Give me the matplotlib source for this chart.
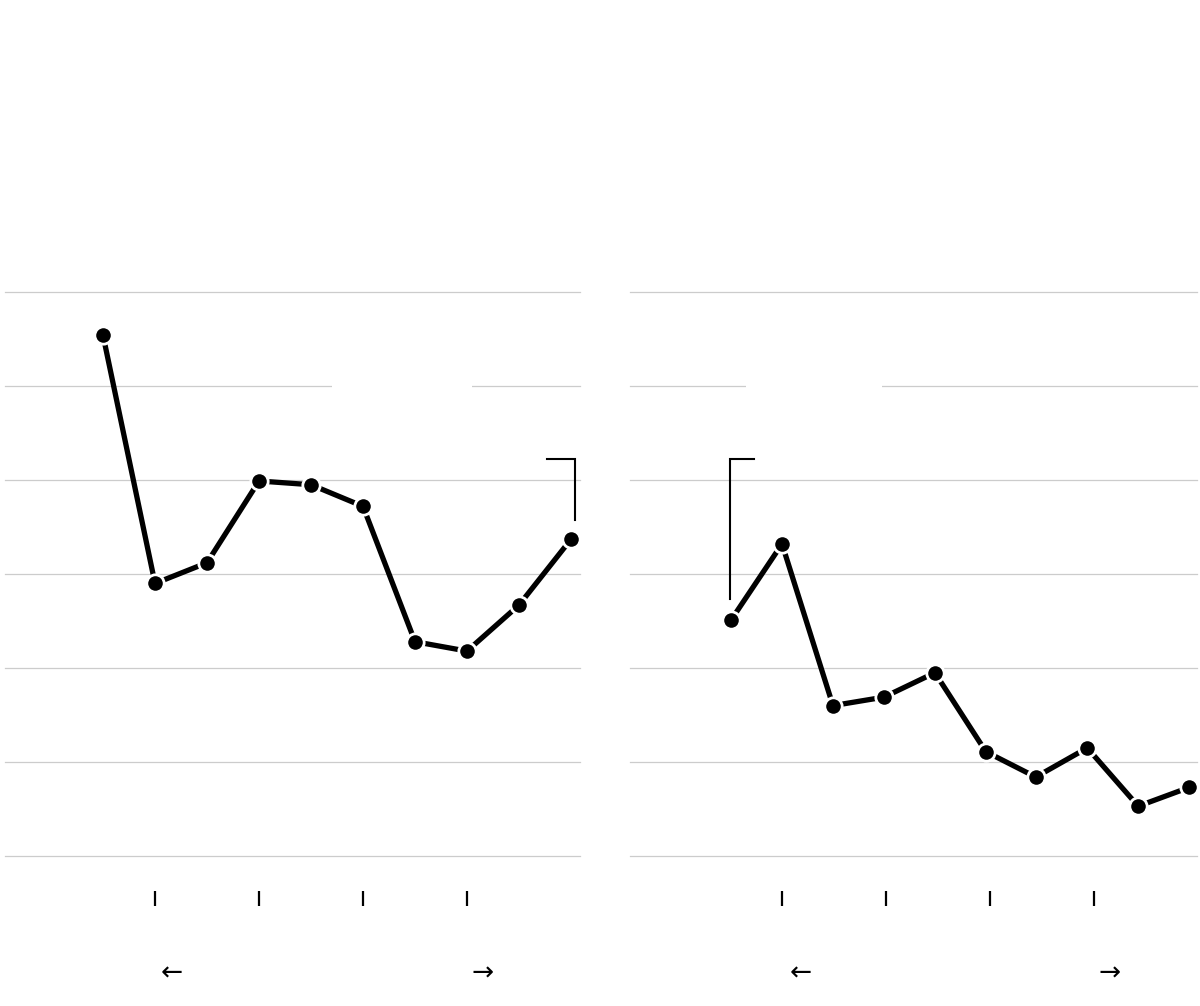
import matplotlib
matplotlib.use("Agg")
import matplotlib.pyplot as plt
from matplotlib.patches import Rectangle
from matplotlib.transforms import blended_transform_factory

# Left panel series
left_x = [0, 1, 2, 3, 4, 5, 6, 7, 8, 9]
left_y = [55.4, 29.0, 31.2, 39.9, 39.5, 37.2, 22.8, 21.8, 26.7, 33.7]

# Right panel series
right_x = [0.02, 1.0, 1.98, 2.96, 3.94, 4.92, 5.88, 6.87, 7.85, 8.83]
right_y = [25.1, 33.2, 16.0, 16.9, 19.5, 11.1, 8.4, 11.5, 5.3, 7.3]

y_grid = [0, 10, 20, 30, 40, 50, 60]
x_ticks = [1, 3, 5, 7]

# annotation leader lines (x, y) and label masks on the 50 gridline
left_leader_x = [8.54, 9.08, 9.08]
left_leader_y = [42.2, 42.2, 35.7]
right_leader_x = [0.46, 0.0, 0.0]
right_leader_y = [42.2, 42.2, 27.3]
left_mask = (4.40, 7.10)
right_mask = (0.31, 2.92)

left_arrows = [1.33, 7.29]
right_arrows = [1.36, 7.30]


def draw_panel(ax, xs, ys, xlim, lead_x, lead_y, mask, arrows):
    ax.set_xlim(*xlim)
    ax.set_ylim(0, 60)
    for s in ["top", "right", "left"]:
        ax.spines[s].set_visible(False)
    ax.spines["bottom"].set_position(("outward", 25))
    ax.spines["bottom"].set_color("none")
    ax.set_yticks([])
    ax.set_xticks(x_ticks)
    ax.set_xticklabels([""] * len(x_ticks))
    ax.tick_params(axis="x", direction="out", length=10.5, width=1.6, color="black")

    for g in y_grid:
        ax.axhline(g, color="#cccccc", linewidth=0.9, zorder=0, clip_on=False)
    ax.add_patch(Rectangle((mask[0], 49), mask[1] - mask[0], 2,
                           facecolor="white", edgecolor="none", zorder=0.5))

    ax.plot(lead_x, lead_y, color="black", linewidth=1.5, zorder=2,
            solid_joinstyle="miter", clip_on=False)
    ax.plot(xs, ys, color="black", linewidth=3.8, zorder=3, clip_on=False,
            marker="o", markersize=12.5, markerfacecolor="black",
            markeredgecolor="white", markeredgewidth=2.0)

    trans = blended_transform_factory(ax.transData, ax.transAxes)
    ax.text(arrows[0], -0.208, "\u2190", transform=trans, ha="center",
            va="center", fontsize=19, color="black")
    ax.text(arrows[1], -0.208, "\u2192", transform=trans, ha="center",
            va="center", fontsize=19, color="black")


fig = plt.figure(figsize=(12, 10.06), dpi=100)
ax1 = fig.add_axes([5 / 1200, 0.1491, 575 / 1200, 0.5606])
ax2 = fig.add_axes([630 / 1200, 0.1491, 567 / 1200, 0.5606])

draw_panel(ax1, left_x, left_y, (-1.885, 9.173), left_leader_x, left_leader_y,
           left_mask, left_arrows)
draw_panel(ax2, right_x, right_y, (-1.923, 8.98), right_leader_x, right_leader_y,
           right_mask, right_arrows)

fig.savefig("out.png", dpi=100, facecolor="white")
